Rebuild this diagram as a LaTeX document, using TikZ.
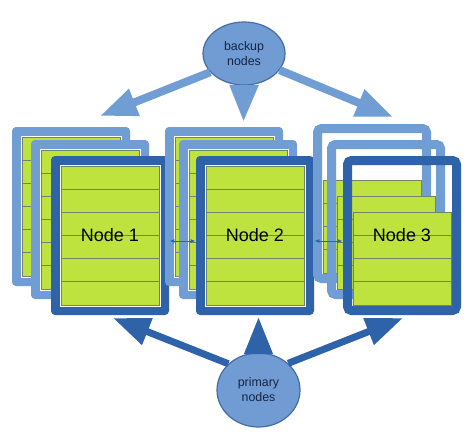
\documentclass[tikz,border=0pt]{standalone}
\usepackage{fontspec}
\setmainfont{Liberation Sans}
\usepackage{tikz}
\usetikzlibrary{arrows.meta,calc,shapes.geometric}
\definecolor{framelight}{RGB}{111,157,212}
\definecolor{framedark}{RGB}{46,99,170}
\definecolor{pagegreen}{RGB}{190,226,62}
\definecolor{rowgray}{RGB}{112,132,108}
\definecolor{bubblefill}{RGB}{112,156,211}
\definecolor{bubbleline}{RGB}{68,108,168}
\definecolor{bubbletext}{RGB}{22,36,70}

\tikzset{
  sheet/.style={fill=pagegreen,draw=rowgray,line width=0.4pt},
  rowline/.style={draw=rowgray,line width=0.5pt},
  bubble/.style={ellipse,fill=bubblefill,draw=bubbleline,line width=0.6pt,inner sep=0pt,
    text=bubbletext,font=\fontsize{6.2}{7.5}\selectfont,align=center},
  frontlabel/.style={inner sep=0pt,minimum width=59pt,minimum height=79.5pt,
    font=\fontsize{9}{10}\selectfont},
  backuparrow/.style={draw=framelight,line width=4pt,-{Triangle[length=18.5pt,width=13.5pt]}},
  primaryarrow/.style={draw=framedark,line width=3.5pt,-{Triangle[length=18.5pt,width=13.5pt]}},
  syncarrow/.style={draw=framedark,line width=0.5pt,{Latex[length=2.5pt,width=2pt]}-{Latex[length=2.5pt,width=2pt]}}
}

\newcommand{\fullpage}[3]{%
  \fill[#3,rounded corners=2pt] (#1,#2) rectangle ++(118,159);
  \fill[white] ($(#1,#2)+(8.5,8.5)$) rectangle ++(101,142);
  \filldraw[sheet] ($(#1,#2)+(10,10)$) rectangle ++(98,139);
  \foreach \k in {1,...,5}
    \draw[rowline] ($(#1,#2)+(10,10)+(0,\k*23.17)$) -- ++(98,0);
}
\newcommand{\emptypage}[3]{%
  \draw[#3,line width=4.5pt,rounded corners=2pt] ($(#1,#2)+(4.5,4.5)$) rectangle ++(109,150);
  \filldraw[sheet] ($(#1,#2)+(10,56.3)$) rectangle ++(98,92.7);
  \foreach \k in {3,4,5}
    \draw[rowline] ($(#1,#2)+(10,10)+(0,\k*23.17)$) -- ++(98,0);
}

\begin{document}
\begin{tikzpicture}[x=0.5pt,y=-0.5pt]
  \fill[white] (0,0) rectangle (474,439);
  \useasboundingbox (0,0) rectangle (474,439);

  \fullpage{12}{127}{framelight}
  \fullpage{31}{140}{framelight}
  \fullpage{51}{156}{framedark}
  \fullpage{165}{127}{framelight}
  \fullpage{179}{140}{framelight}
  \fullpage{196}{156}{framedark}
  \emptypage{313}{124}{framelight}
  \emptypage{327}{140}{framelight}
  \emptypage{343}{156}{framedark}

  \node[frontlabel] (node1) at (110,235.5) {Node 1};
  \node[frontlabel] (node2) at (255,235.5) {Node 2};
  \node[frontlabel] (node3) at (402,235.5) {Node 3};

  \draw[syncarrow] ([yshift=-2.75pt]node1.east) -- ([yshift=-2.75pt]node2.west);
  \draw[syncarrow] ([yshift=-2.75pt]node2.east) -- ([yshift=-2.75pt]node3.west);

  \node[bubble,minimum width=41pt,minimum height=31.5pt] (backup) at (244,53.5) {backup\\nodes};
  \node[bubble,minimum width=41.5pt,minimum height=37pt] (primary) at (258.5,390) {primary\\nodes};

  \coordinate (backupleft) at (100,116);
  \coordinate (backupmid) at (243.5,122);
  \coordinate (backupright) at (393,117);
  \coordinate (primaryleft) at (113,318);
  \coordinate (primarymid) at (258.5,317);
  \coordinate (primaryright) at (403,318);

  \draw[backuparrow] (backup.209) -- (backupleft);
  \draw[backuparrow] (backup.south) -- (backupmid);
  \draw[backuparrow] (backup.335) -- (backupright);
  \draw[primaryarrow] (primary.139) -- (primaryleft);
  \draw[primaryarrow] (primary.north) -- (primarymid);
  \draw[primaryarrow] (primary.42) -- (primaryright);
\end{tikzpicture}
\end{document}
